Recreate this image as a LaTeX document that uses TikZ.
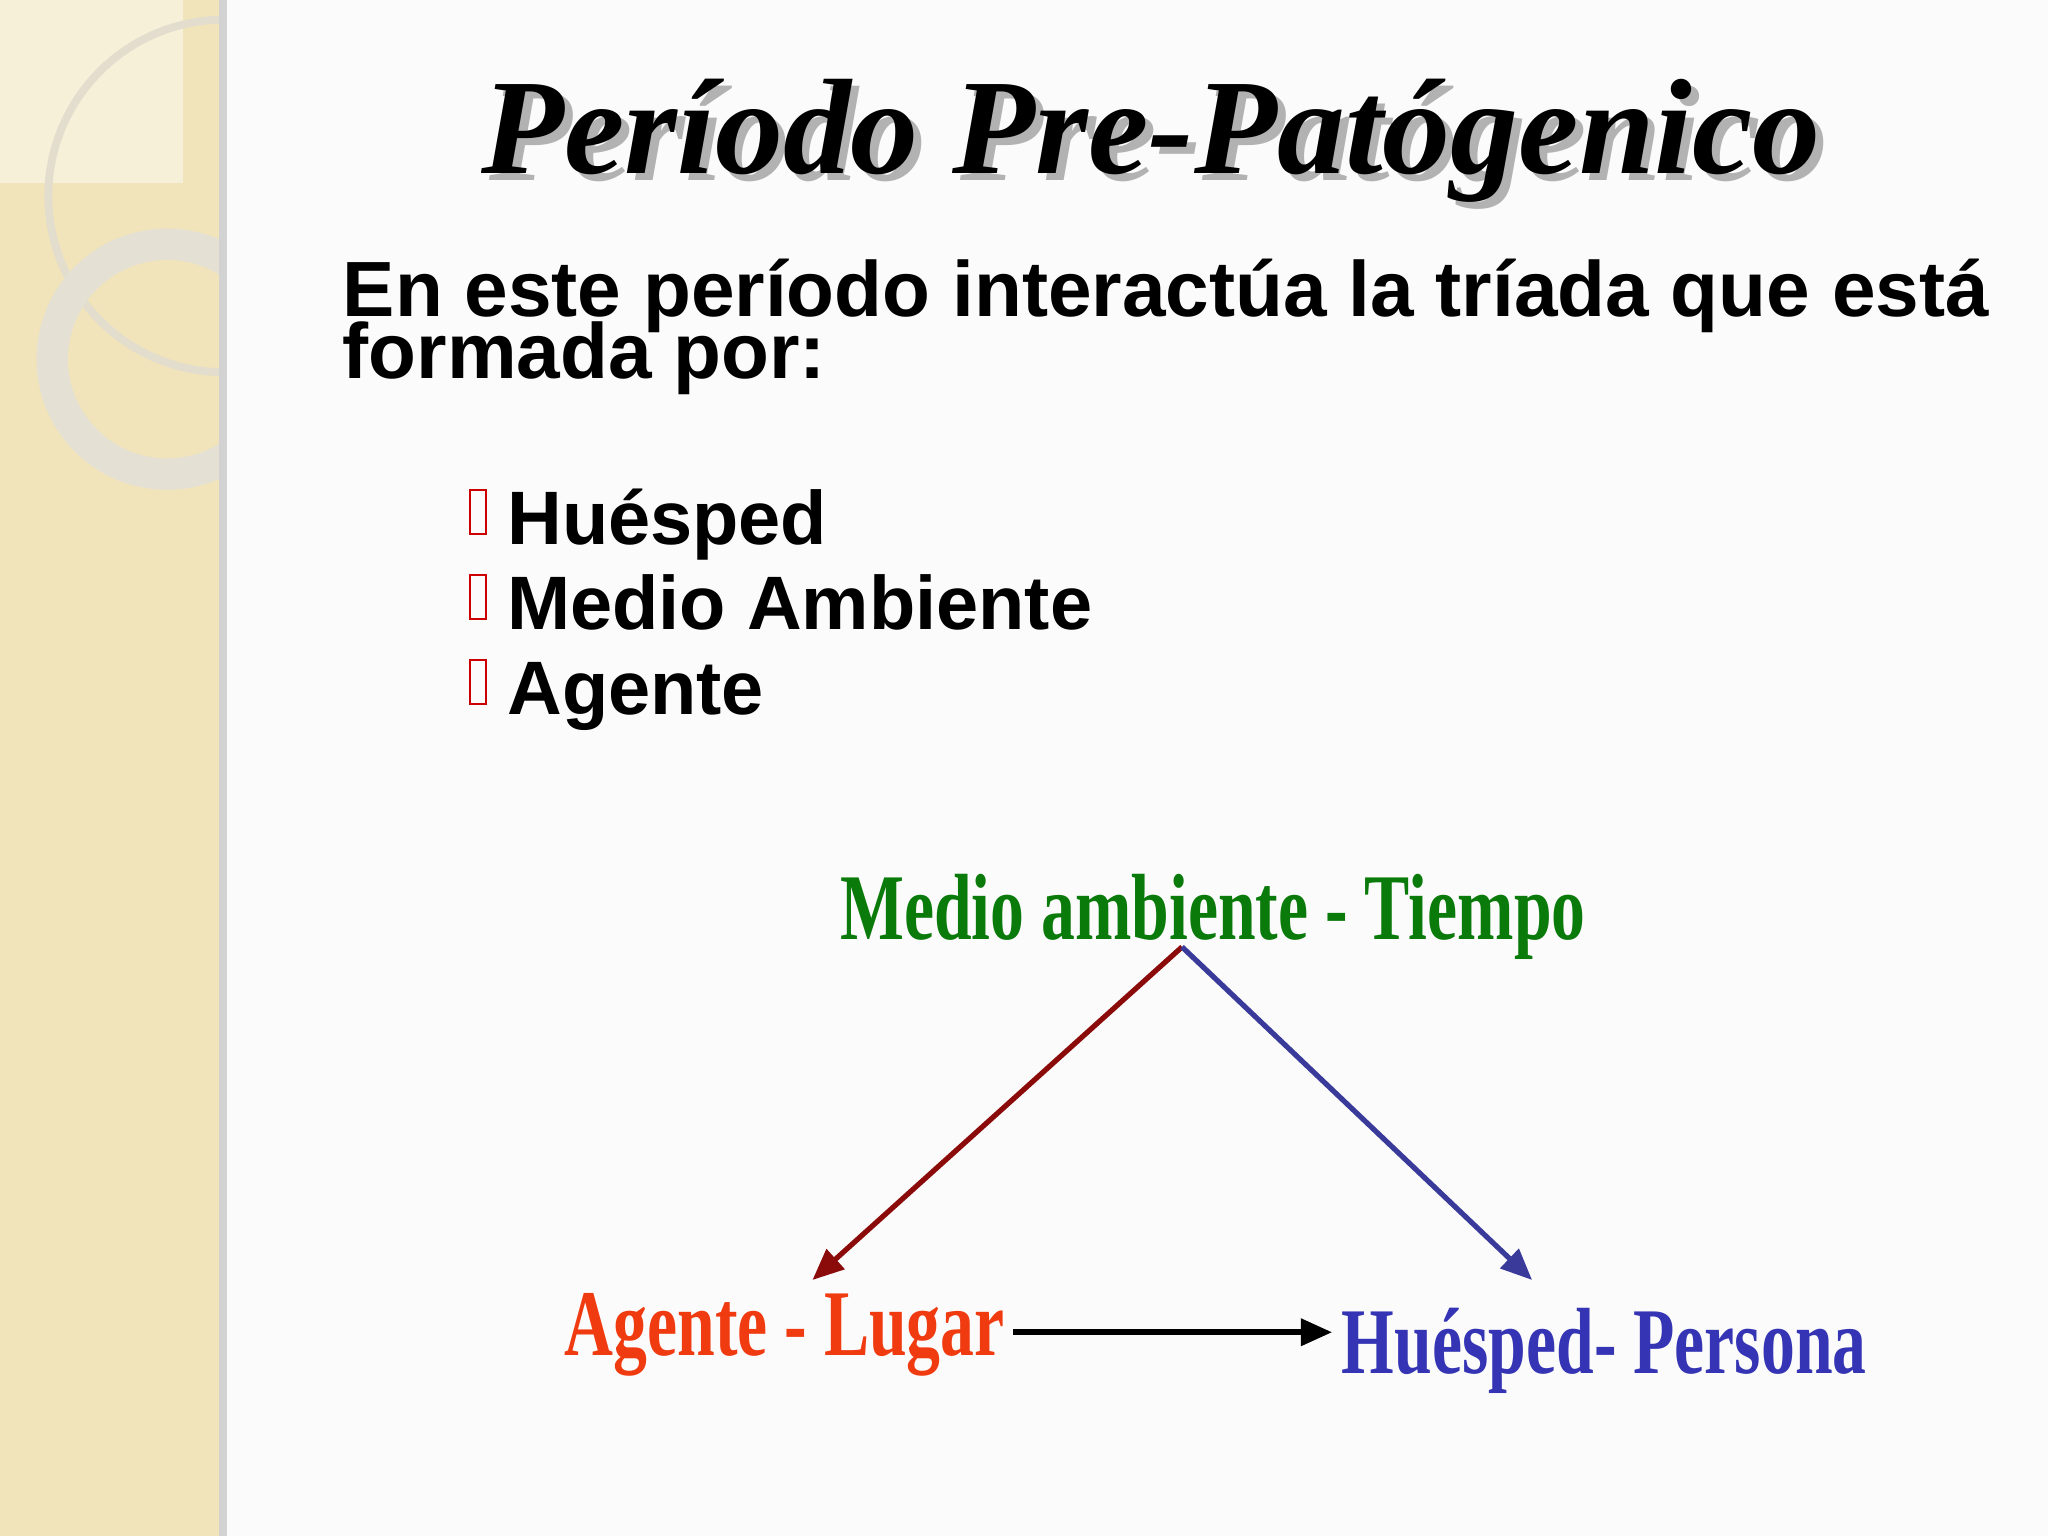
\documentclass[tikz,border=0pt]{standalone}
\usepackage{fontspec}
\setmainfont{Liberation Sans}
\newfontfamily\cond[FakeStretch=0.72]{Liberation Serif}
\newfontfamily\titlef{Liberation Serif}
\usetikzlibrary{arrows.meta}
\definecolor{beige}{HTML}{F1E4BB}
\definecolor{gr}{HTML}{0A7A0A}
\definecolor{rd}{HTML}{F03A10}
\definecolor{bl}{HTML}{3434B4}
\definecolor{br}{HTML}{8B0A0A}
\definecolor{nv}{HTML}{3A3A9A}
\tikzset{lab/.style={anchor=west,inner sep=0pt,font=\cond\bfseries\fontsize{36}{40}\selectfont},
 bul/.style={anchor=base west,inner sep=0pt,font=\bfseries\fontsize{29}{32}\selectfont},
 box/.style={draw=red!80!black,line width=0.8pt}}
\begin{document}
\begin{tikzpicture}[x=0.5pt,y=-0.5pt]
\useasboundingbox (0,0) rectangle (1568,1176);
\fill[white!97!gray] (0,0) rectangle (1568,1176);
\fill[beige] (0,0) rectangle (172,1176);
\begin{scope}
\clip (0,0) rectangle (170,1176);
\fill[white,opacity=0.45] (0,0) rectangle (140,140);
\draw[line width=3pt,white!70!gray!60!beige] (172,150) circle (135);
\draw[line width=12pt,white!75!gray!70!beige] (128,275) circle (88);
\end{scope}
\fill[gray!35] (168,0) rectangle (174,1176);
% title
\node[anchor=west,inner sep=0pt,text=gray!60,font=\titlef\bfseries\itshape\fontsize{52}{56}\selectfont] at (374,113) {Período Pre-Patógenico};
\node (title)[anchor=west,inner sep=0pt,font=\titlef\bfseries\itshape\fontsize{52}{56}\selectfont] at (368,108) {Período Pre-Patógenico};
\node (l1)[bul,font=\bfseries\fontsize{30}{32}\selectfont] at (262,242) {En este período interactúa la tríada que está};
\node (l2)[bul,font=\bfseries\fontsize{30}{32}\selectfont] at (262,290) {formada por:};
\foreach \y/\t [count=\i] in {417/Huésped,482/Medio Ambiente,547/Agente}{
  \draw[box] (360,\y-42) rectangle (372,\y-8);
  \node (b\i)[bul] at (388,\y) {\t};}
\node (m)[lab,text=gr] at (643,702) {Medio ambiente - Tiempo};
\node (a)[lab,text=rd] at (432,1022) {Agente - Lugar};
\node (h)[lab,text=bl] at (1027,1034) {Huésped- Persona};
\coordinate (top) at (905,725);
\coordinate (al) at (622,980);
\coordinate (hr) at (1173,980);
\draw[br,line width=2pt,-{Triangle[length=12pt,width=10pt]}] (top) -- (al);
\draw[nv,line width=2pt,-{Triangle[length=12pt,width=10pt]}] (top) -- (hr);
\draw[black,line width=2.4pt,-{Triangle[length=12pt,width=10pt]}] (a.east)++(6,-2) -- (1020,1020);
\end{tikzpicture}
\end{document}
